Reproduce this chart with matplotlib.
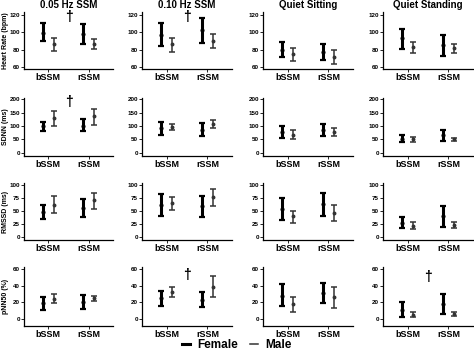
import matplotlib
matplotlib.use("Agg")
import matplotlib.pyplot as plt
from matplotlib.lines import Line2D

plt.rcParams['font.family'] = ['Liberation Sans', 'DejaVu Sans']
plt.rcParams['font.weight'] = 'bold'

conditions = ["0.05 Hz SSM", "0.10 Hz SSM", "Quiet Sitting", "Quiet Standing"]
measures = ["Heart Rate (bpm)", "SDNN (ms)", "RMSSD (ms)", "pNN50 (%)"]
phases = ["bSSM", "rSSM"]

# values per measure: [condition][phase] -> (mean, low, high)
hr_female = [[(99, 89.5, 110), (98, 86.5, 109)],
             [(97, 84, 110), (102, 88, 116)],
             [(80, 72, 89), (77, 68, 87)],
             [(93, 81, 104), (85, 73, 97)]]
hr_male = [[(86, 78, 93), (86.5, 81, 92)],
           [(86, 77, 93), (90, 82, 98)],
           [(75, 67, 82), (72, 64, 80)],
           [(83, 76, 89), (82, 76, 87)]]

sdnn_female = [[(99, 80, 117), (102, 80, 126)],
               [(92, 65, 117), (86, 64, 110)],
               [(78, 55, 101), (84, 61, 107)],
               [(52, 40, 65), (65, 45, 85)]]
sdnn_male = [[(130, 100, 157), (136, 104, 164)],
             [(97, 86, 107), (107, 92, 122)],
             [(67, 50, 86), (76, 61, 92)],
             [(51, 42, 59), (52, 45, 57)]]

rmssd_female = [[(49, 35, 61), (56, 38, 73)],
                [(62, 40, 82), (59, 39, 79)],
                [(54, 33, 75), (63, 41, 84)],
                [(28, 17, 38), (41, 20, 60)]]
rmssd_male = [[(62, 46, 79), (70, 53, 85)],
              [(65, 52, 77), (77, 60, 92)],
              [(40, 27, 50), (47, 31, 62)],
              [(22, 15, 29), (24, 18, 30)]]

pnn_female = [[(19, 11, 26), (20, 12, 29)],
              [(25, 16, 34), (23, 14, 32)],
              [(28, 15, 42), (31, 19, 43)],
              [(11, 2, 20), (18, 6, 30)]]
pnn_male = [[(24, 19, 30), (25, 22, 28)],
            [(32, 26, 39), (39, 26, 52)],
            [(18, 8, 26), (26, 13, 38)],
            [(5, 2, 8), (5.5, 3, 8)]]

female_data = [hr_female, sdnn_female, rmssd_female, pnn_female]
male_data = [hr_male, sdnn_male, rmssd_male, pnn_male]

ylims = [(58, 123), (-12, 205), (-5, 103), (-9, 63)]
yticks = [[60, 80, 100, 120], [0, 50, 100, 150, 200], [0, 25, 50, 75, 100], [0, 20, 40, 60]]

# daggers: (row, col, y)
daggers = [(0, 0, 117), (0, 1, 117), (1, 0, 191), (3, 1, 53), (3, 3, 51)]

W, H = 474, 351
fig = plt.figure(figsize=(W / 100, H / 100), dpi=100)

col_left = [24, 142, 263, 383]
col_w = [89, 90, 90, 90]
row_top = [12, 98, 183, 267]
row_bot = [69, 156, 240, 326]

fem_color = "#000000"
male_color = "#333333"
off = 0.14

for r in range(4):
    for c in range(4):
        l = col_left[c] / W
        b = 1 - row_bot[r] / H
        h = (row_bot[r] - row_top[r]) / H
        ax = fig.add_axes([l, b, col_w[c] / W, h])
        for i, ph in enumerate(phases):
            m, lo, hi = female_data[r][c][i]
            ax.errorbar(i + 1 - off, m, yerr=[[m - lo], [hi - m]], fmt='o', ms=2,
                        color=fem_color, ecolor=fem_color, elinewidth=2.2,
                        capsize=2.5, capthick=1.6)
            m, lo, hi = male_data[r][c][i]
            ax.errorbar(i + 1 + off, m, yerr=[[m - lo], [hi - m]], fmt='o', ms=1.8,
                        color=male_color, ecolor=male_color, elinewidth=1.1,
                        capsize=2.5, capthick=1.1)
        ax.set_xlim(0.4, 2.6)
        ax.set_ylim(*ylims[r])
        ax.set_yticks(yticks[r])
        ax.set_xticks([1, 2])
        ax.set_xticklabels(phases, fontsize=6.5, fontweight='bold')
        ax.tick_params(axis='y', labelsize=4.5, length=2, width=0.6, pad=1)
        ax.tick_params(axis='x', length=2, width=0.6, pad=1)
        for lab in ax.get_yticklabels():
            lab.set_fontweight('bold')
        for s in ['top', 'right']:
            ax.spines[s].set_visible(False)
        for s in ['left', 'bottom']:
            ax.spines[s].set_linewidth(0.9)
        if r == 0:
            ax.set_title(conditions[c], fontsize=7, fontweight='bold', pad=3)
        if c == 0:
            ax.set_ylabel(measures[r], fontsize=5, fontweight='bold')
            ax.yaxis.set_label_coords((9.0 - col_left[0]) / col_w[0], 0.5)
        for (dr, dc, dy) in daggers:
            if dr == r and dc == c:
                ax.text(1.5, dy, "†", ha='center', va='center', fontsize=10,
                        fontweight='bold', color='black')

handles = [Line2D([0], [0], color=fem_color, lw=2.2),
           Line2D([0], [0], color=male_color, lw=1.1)]
fig.legend(handles, ["Female", "Male"], loc='center', bbox_to_anchor=(0.5, 1 - 345 / H),
           ncol=2, frameon=False, handlelength=0.7, columnspacing=1.0,
           handletextpad=0.6, prop={'weight': 'bold', 'size': 8.5},
           borderpad=0.1)

fig.savefig("out.png", dpi=100)
